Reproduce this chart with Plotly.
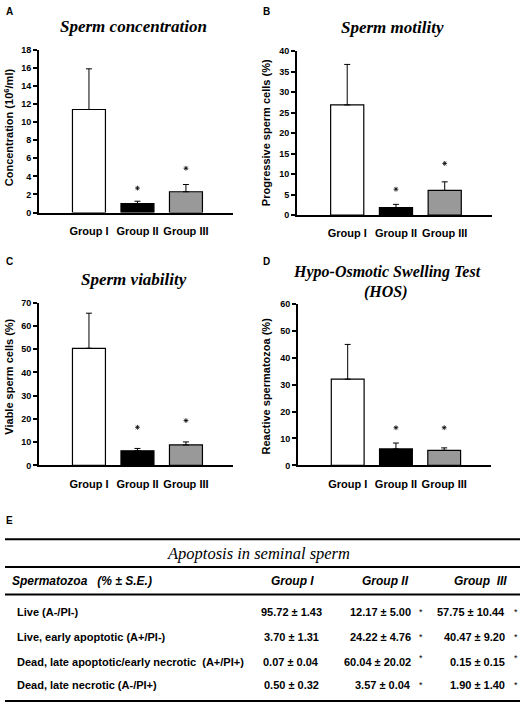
import plotly.graph_objects as go

W, H = 520, 708

# bar chart data (mean and upper error end)
groups = ["Group I", "Group II", "Group III"]
bar_colors = ["white", "black", "#999999"]

conc_mean = [11.4, 1.0, 2.3]
conc_top = [15.9, 1.25, 3.1]
conc_star = [2.7, 4.9]

motil_mean = [26.9, 1.8, 6.0]
motil_top = [36.8, 2.6, 8.1]
motil_star = [6.3, 12.6]

viab_mean = [50.4, 6.3, 8.8]
viab_top = [65.5, 7.3, 10.1]
viab_star = [16.4, 19.3]

hos_mean = [32.0, 6.1, 5.6]
hos_top = [44.9, 8.3, 6.5]
hos_star = [14.0, 14.0]

# table E
row_labels = ["Live (A-/PI-)", "Live, early apoptotic (A+/PI-)",
              "Dead, late apoptotic/early necrotic  (A+/PI+)", "Dead, late necrotic (A-/PI+)"]
g1_mean = [95.72, 3.70, 0.07, 0.50]
g1_se = [1.43, 1.31, 0.04, 0.32]
g2_mean = [12.17, 24.22, 60.04, 3.57]
g2_se = [5.00, 4.76, 20.02, 0.04]
g3_mean = [57.75, 40.47, 0.15, 1.90]
g3_se = [10.44, 9.20, 0.15, 1.40]
g2_sig = [True, True, True, True]
g3_sig = [True, True, True, True]


def px(x):
    return x / W


def py(y):
    return 1 - y / H


sans = "Liberation Sans, Arial, sans-serif"
serif = "Liberation Serif, Times New Roman, serif"

fig = go.Figure()

panels = [
    # means, tops, stars, axis suffix, ymax, dtick, x left px, x right px, y0 px, ytop px
    (conc_mean, conc_top, conc_star, "", 18, 2, 39, 233, 210.5, 45.5),
    (motil_mean, motil_top, motil_star, "2", 40, 5, 297, 492, 213, 47),
    (viab_mean, viab_top, viab_star, "3", 70, 10, 39, 233, 467, 302),
    (hos_mean, hos_top, hos_star, "4", 60, 10, 298, 491, 467, 303),
]

annotations = []
shapes = []
layout_axes = {}
for means, tops, stars, s, ymax, dt, xl, xr, y0, yt in panels:
    err = [t - m for t, m in zip(tops, means)]
    fig.add_trace(go.Bar(
        x=groups, y=means, width=0.68,
        marker=dict(color=bar_colors, line=dict(color="black", width=1.2)),
        error_y=dict(type="data", array=err, arrayminus=[0, 0, 0], symmetric=False,
                     color="black", thickness=1, width=3),
        xaxis="x" + s, yaxis="y" + s, showlegend=False))
    # significance stars above groups II and III
    fig.add_trace(go.Scatter(
        x=groups[1:], y=stars, mode="markers",
        marker=dict(symbol="asterisk-open", size=4, color="black",
                    line=dict(color="black", width=0.8)),
        xaxis="x" + s, yaxis="y" + s, showlegend=False, hoverinfo="skip"))
    layout_axes["xaxis" + s] = dict(
        domain=[px(xl), px(xr)], anchor="y" + s, type="category",
        range=[-1.03, 2.97], showline=True, linewidth=2, linecolor="black",
        ticks="outside", ticklen=7, tickcolor="rgba(0,0,0,0)",
        tickfont=dict(family=sans, size=11, color="black", weight="bold"),
        showgrid=False, zeroline=False, fixedrange=True)
    layout_axes["yaxis" + s] = dict(
        domain=[py(y0), py(yt)], anchor="x" + s, range=[0, ymax], dtick=dt,
        showline=True, linewidth=2, linecolor="black",
        ticks="outside", ticklen=4, tickwidth=1.5, tickcolor="black",
        tickfont=dict(family=sans, size=9, color="black", weight="bold"),
        showgrid=False, zeroline=False, fixedrange=True)

fig.update_layout(**layout_axes)

# panel letters
for letter, x, y in [("A", 4, 7), ("B", 261, 7), ("C", 4, 260), ("D", 261, 260), ("E", 4, 523)]:
    annotations.append(dict(text=letter, x=px(x), y=py(y), xref="paper", yref="paper",
                            xanchor="left", yanchor="middle", showarrow=False,
                            font=dict(family=sans, size=10, color="black", weight="bold")))

# chart titles
for title, x, y, fs in [("Sperm concentration", 133, 22, 17), ("Sperm motility", 392, 23, 17),
                        ("Sperm viability", 134, 278, 17), ("Hypo-Osmotic Swelling Test", 387, 271, 16),
                        ("(HOS)", 386, 291, 16)]:
    annotations.append(dict(text=title, x=px(x), y=py(y), xref="paper", yref="paper",
                            xanchor="center", yanchor="middle", showarrow=False,
                            font=dict(family=serif, size=fs, color="black",
                                      weight="bold", style="italic")))

# y axis titles
for title, x, y in [("Concentration (10<sup>6</sup>/ml)", 9, 124),
                    ("Progressive sperm cells (%)", 266, 130),
                    ("Viable sperm cells (%)", 9, 377),
                    ("Reactive spermatozoa (%)", 266, 387)]:
    annotations.append(dict(text=title, x=px(x), y=py(y), xref="paper", yref="paper",
                            xanchor="center", yanchor="middle", textangle=-90, showarrow=False,
                            font=dict(family=sans, size=11, color="black", weight="bold")))

# table E
for yl in [542, 570, 598, 706]:
    shapes.append(dict(type="line", xref="paper", yref="paper", x0=px(5), x1=1,
                       y0=py(yl), y1=py(yl), line=dict(color="black", width=2)))

annotations.append(dict(text="Apoptosis in seminal sperm", x=px(258), y=py(556),
                        xref="paper", yref="paper", xanchor="center", yanchor="middle",
                        showarrow=False,
                        font=dict(family=serif, size=16.5, color="black", style="italic")))
hfont = dict(family=sans, size=12, color="black", weight="bold", style="italic")
annotations.append(dict(text="Spermatozoa&nbsp;&nbsp; (% ± S.E.)", x=px(10), y=py(584),
                        xref="paper", yref="paper", xanchor="left", yanchor="middle",
                        showarrow=False, font=hfont))
for head, x in [("Group I", 292), ("Group II", 385), ("Group&nbsp; III", 480)]:
    annotations.append(dict(text=head, x=px(x), y=py(584), xref="paper", yref="paper",
                            xanchor="center", yanchor="middle", showarrow=False, font=hfont))

row_y = [616, 641, 666, 690]
vfont = dict(family=sans, size=11, color="black", weight="bold")
for i, lab in enumerate(row_labels):
    cells = [(lab.replace("  ", "&nbsp; "), 15, "left"),
             (f"{g1_mean[i]:.2f} ± {g1_se[i]:.2f}", 291, "center"),
             (f"{g2_mean[i]:.2f} ± {g2_se[i]:.2f}", 413, "right"),
             (f"{g3_mean[i]:.2f} ± {g3_se[i]:.2f}", 507, "right")]
    for txt, x, anc in cells:
        annotations.append(dict(text=txt, x=px(x), y=py(row_y[i]), xref="paper", yref="paper",
                                xanchor=anc, yanchor="middle", showarrow=False, font=vfont))
    lift = 4 if i == 2 else 0
    for sig, x in [(g2_sig[i], 421), (g3_sig[i], 516)]:
        if sig:
            annotations.append(dict(text="*", x=px(x), y=py(row_y[i] - lift), xref="paper", yref="paper",
                                    xanchor="center", yanchor="middle", showarrow=False,
                                    font=dict(family=sans, size=9, color="black")))

fig.update_layout(
    width=W, height=H, margin=dict(l=0, r=0, t=0, b=0),
    paper_bgcolor="white", plot_bgcolor="white",
    annotations=annotations, shapes=shapes,
)

# the page body has a default 8px margin; drop it so the figure fills the window
fig.write_html("out.html", config={"displayModeBar": False},
               post_script="document.body.style.margin = '0px';")
